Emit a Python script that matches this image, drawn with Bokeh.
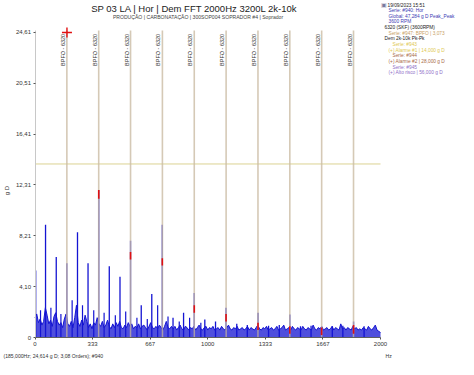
import math
from bokeh.plotting import figure
from bokeh.models import Range1d, FixedTicker, Label
from bokeh.core.properties import value
from bokeh.embed import file_html
from bokeh.resources import INLINE

# ---------------- data ----------------
title_text = "SP 03 LA | Hor | Dem FFT 2000Hz 3200L 2k-10k"
subtitle_text = "PRODUÇÃO | CARBONATAÇÃO | 300SOP004 SOPRADOR #4 | Soprador"
cursor_text = "(185,000Hz; 24,614 g D; 3,08 Orders); #940"
x_unit = "Hz"
y_unit = "g D"

x_ticks = [0, 333.333, 666.667, 1000, 1333.333, 1666.667, 2000]
x_tick_labels = ["0", "333", "667", "1000", "1333", "1667", "2000"]
y_ticks = [0, 4.1017, 8.2033, 12.305, 16.4067, 20.5083, 24.61]
y_tick_labels = ["0", "4,10", "8,21", "12,31", "16,41", "20,51", "24,61"]

# noise floor of the spectrum, every 10 Hz from 0 to 2000 Hz
floor_hz = list(range(0, 2001, 10))
floor_amp = [
    1.6, 1.9, 1.2, 1.5, 1.0, 1.3, 2.4, 1.8, 1.1, 1.4,
    0.9, 1.7, 2.0, 1.3, 1.0, 1.2, 0.8, 1.5, 1.9, 1.1,
    0.9, 1.3, 0.8, 1.6, 2.6, 1.2, 0.9, 1.4, 1.0, 1.8,
    1.3, 0.8, 1.1, 0.7, 1.2, 1.0, 1.6, 1.1, 0.9, 1.3,
    0.8, 1.0, 1.4, 0.9, 0.7, 1.1, 0.8, 1.2, 0.9, 1.3,
    0.8, 0.7, 1.0, 0.8, 1.2, 0.9, 1.1, 0.7, 0.9, 0.8,
    1.1, 0.7, 0.9, 1.0, 0.8, 0.6, 0.9, 1.2, 0.8, 0.7,
    0.9, 0.7, 1.0, 0.8, 0.6, 0.9, 1.3, 0.8, 0.7, 0.9,
    0.7, 0.9, 0.6, 0.8, 1.0, 0.7, 0.6, 0.9, 0.8, 0.6,
    0.8, 0.7, 0.9, 0.6, 0.8, 1.0, 0.7, 0.6, 0.8, 0.9,
    0.6, 0.8, 0.7, 0.9, 0.6, 0.7, 0.8, 0.6, 0.9, 0.7,
    0.6, 0.8, 1.0, 0.7, 0.6, 0.8, 0.7, 0.9, 0.6, 0.7,
    0.8, 0.6, 0.7, 0.9, 0.6, 0.8, 0.7, 0.6, 0.8, 1.0,
    0.7, 0.6, 0.8, 0.7, 0.9, 0.6, 0.7, 0.8, 0.6, 0.7,
    0.9, 0.6, 0.7, 0.8, 1.0, 0.6, 0.7, 0.8, 0.6, 0.9,
    0.7, 0.6, 0.8, 0.7, 0.6, 0.9, 0.7, 0.6, 0.8, 0.7,
    0.6, 1.0, 0.7, 0.6, 0.8, 0.7, 0.9, 0.6, 0.7, 0.8,
    0.6, 0.7, 0.9, 0.6, 0.8, 0.7, 0.6, 1.1, 0.7, 0.8,
    0.6, 0.8, 0.7, 0.6, 0.9, 0.7, 0.8, 0.6, 0.7, 0.6,
    0.8, 0.7, 0.6, 0.9, 0.7, 0.6, 0.8, 1.0, 0.6, 0.5,
    0.4,
]

# spectral peaks (Hz, g D)
peak_hz = [4, 61, 123, 184, 246, 307, 369, 430, 492, 553, 615, 676, 737,
           799, 860, 922, 983, 1045, 1106, 1168, 1229, 1291, 1352, 1414,
           1475, 1537, 1598, 1659, 1721, 1782, 1844, 1905]
peak_amp = [5.4, 9.1, 6.5, 6.0, 8.5, 6.0, 11.9, 5.75, 4.9, 7.8, 2.6, 3.5, 9.1,
            1.6, 2.0, 3.6, 1.45, 1.3, 2.4, 1.1, 1.0, 2.0, 0.95, 1.0,
            1.85, 0.9, 0.95, 0.85, 0.9, 0.95, 1.3, 0.9]
side_hz = [32, 92, 150, 215, 275, 340, 400, 465, 525, 590, 650, 710, 770, 835, 895, 960]
side_amp = [2.2, 2.4, 1.9, 3.0, 2.6, 2.2, 2.0, 1.8, 2.1, 1.6, 1.5, 2.6, 1.7, 1.3, 1.6, 1.2]

# BPFO harmonic cursors (6320 SKF, 3.073 orders of 60 Hz)
bpfo_hz = [184.4, 368.8, 553.1, 737.5, 921.9, 1106.3, 1290.7, 1475.1, 1659.4, 1843.8]
bpfo_label = "BPFO - 6320"
# red harmonic markers on the spectrum
mark_hz = [369, 553, 737, 922, 1106, 1291, 1475, 1659, 1844]
mark_lo = [11.2, 6.3, 5.8, 2.0, 1.3, 0.6, 0.3, 0.2, 0.3]
mark_hi = [11.9, 6.9, 6.4, 2.6, 1.9, 1.2, 0.9, 0.8, 1.0]

alarm1 = 14.0
cursor_hz = 185.0
cursor_g = 24.614
x_max = 2000
y_max = 24.77

legend_lines = [
    ("19/09/2023 15:51", "#222222", 0),
    ("Serie: #940: Hor", "#3c3cb4", 1),
    ("Global: 47,284 g D Peak_Peak", "#3c3cb4", 1),
    ("3600 RPM", "#3c3cb4", 1),
    ("6320 (SKF) (3600RPM)", "#222222", 0),
    ("Serie: #947: BPFO | 3,073", "#c8a064", 1),
    ("Dem 2k-10k Pk-Pk", "#222222", 0),
    ("Serie: #943", "#e0c850", 2),
    ("(+) Alarme #1 | 14,000 g D", "#e0c850", 1),
    ("Serie: #944", "#a86a48", 2),
    ("(+) Alarme #2 | 28,000 g D", "#a86a48", 1),
    ("Serie: #945", "#9070c8", 2),
    ("(+) Alto risco | 56,000 g D", "#9070c8", 1),
]

# ---------------- layout ----------------
W, H = 458, 359
X0_PX, X1_PX = 34.5, 380     # px of 0 Hz and 2000 Hz
Y0_PX, Y1_PX = 337, 30       # px of 0 g and y_max
FONT = "Liberation Sans"

kx = (X1_PX - X0_PX) / x_max
ky = (Y0_PX - Y1_PX) / y_max


def dx(cx):
    return (cx - X0_PX) / kx


def dy(cy):
    return (Y0_PX - cy) / ky


p = figure(width=W, height=H, output_backend="svg", toolbar_location=None,
           x_range=Range1d(dx(0), dx(W)), y_range=Range1d(dy(H), dy(0)),
           min_border=0)
p.title = None
p.outline_line_color = None
p.grid.visible = False

# axes drawn at the data origin
for ax in (p.xaxis, p.yaxis):
    ax.fixed_location = 0
    ax.major_tick_out = 2
    ax.major_tick_in = 0
    ax.minor_tick_line_color = None
    ax.major_label_text_font = FONT
    ax.major_label_text_font_size = "6px"
    ax.major_label_text_color = "#333333"
    ax.major_label_standoff = 2
p.xaxis.bounds = (0, x_max)
p.yaxis.bounds = (0, y_max)
p.yaxis.axis_line_color = "#c8c8c8"
p.yaxis.major_tick_line_color = "#555555"
p.xaxis.axis_line_color = "#606060"
p.xaxis.major_tick_line_color = "#555555"
p.xaxis.ticker = FixedTicker(ticks=x_ticks)
p.yaxis.ticker = FixedTicker(ticks=y_ticks)
p.xaxis.major_label_overrides = {t: l for t, l in zip(x_ticks, x_tick_labels)}
p.yaxis.major_label_overrides = {t: l for t, l in zip(y_ticks, y_tick_labels)}

# spectrum
blue = "#1414d2"
p.varea(x=floor_hz, y1=[0] * len(floor_hz), y2=floor_amp, fill_color=blue, fill_alpha=0.75)
p.line(x=floor_hz, y=floor_amp, line_color=blue, line_width=1)
p.segment(x0=side_hz, y0=[0] * len(side_hz), x1=side_hz, y1=side_amp,
          line_color=blue, line_width=1.2)
p.segment(x0=peak_hz, y0=[0] * len(peak_hz), x1=peak_hz, y1=peak_amp,
          line_color=blue, line_width=1.3)

# alarm line
p.segment(x0=[0], y0=[alarm1], x1=[x_max], y1=[alarm1], line_color="#dcd292", line_width=1)

# BPFO cursor lines
p.segment(x0=bpfo_hz, y0=[0] * len(bpfo_hz), x1=bpfo_hz, y1=[y_max] * len(bpfo_hz),
          line_color="#cbbca4", line_width=1.6, line_alpha=0.8)
p.text(x=bpfo_hz, y=[24.5] * len(bpfo_hz), text=[bpfo_label] * len(bpfo_hz),
       angle=math.pi / 2, text_align="right", text_baseline="bottom", x_offset=-1,
       text_font=value("Liberation Sans"), text_font_size="5.5px", text_color="#333333")

# red harmonic markers
p.segment(x0=mark_hz, y0=mark_lo, x1=mark_hz, y1=mark_hi, line_color="#e01010", line_width=1.6)
p.scatter(x=[cursor_hz], y=[cursor_g], marker="cross", size=10,
          line_color="#e01010", line_width=1.4)


def label(cx, cy, text, size, color="#222222", align="left", angle=0.0):
    p.add_layout(Label(x=dx(cx), y=dy(cy), text=text, text_font=FONT,
                       text_font_size=size, text_color=color, text_align=align,
                       text_baseline="middle", angle=angle))


# titles
label(194, 8, title_text, "9.5px", "#222222", "center")
label(197.5, 16.5, subtitle_text, "5.1px", "#444444", "center")

# y axis unit
label(6, 190, y_unit, "6px", "#333333", "center", math.pi / 2)

# bottom texts
label(3, 355, cursor_text, "5.1px", "#333333")
label(385, 355, x_unit, "5.1px", "#333333")

# legend block at top right
indent = {0: 384, 1: 388, 2: 392}
ly = 4.5
for txt, col, lvl in legend_lines:
    x0 = indent[lvl]
    if lvl == 0 and txt.startswith("19/"):
        x0 = 387
    label(x0, ly, txt, "4.8px", col)
    ly += 5.65
label(380, 4.5, "▣", "6px", "#7a7aa0")

open("out.html", "w").write(file_html(p, INLINE))
